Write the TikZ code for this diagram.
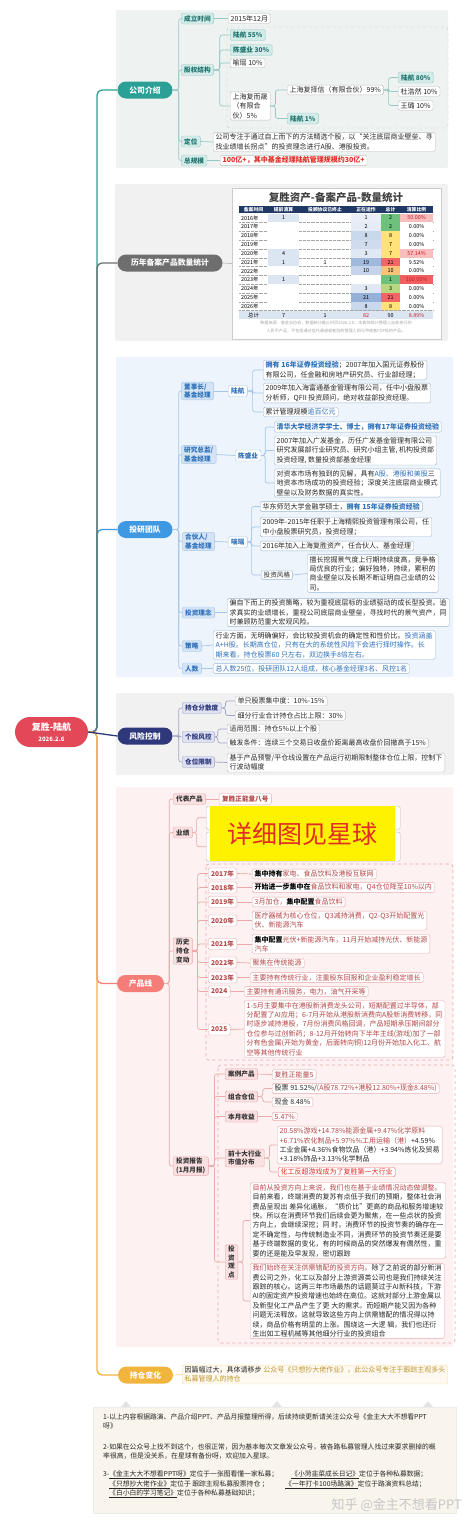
\documentclass[tikz,border=0pt]{standalone}
\usepackage{fontspec}
\setmainfont{Noto Sans CJK SC}
\usetikzlibrary{positioning, arrows.meta, calc}
\definecolor{TealMain}{RGB}{43,160,150}
\definecolor{TealLine}{RGB}{150,200,195}
\definecolor{TealSoft}{RGB}{212,236,233}
\definecolor{TealDark}{RGB}{30,115,110}
\definecolor{GrayMain}{RGB}{110,110,110}
\definecolor{BlueMain}{RGB}{62,152,226}
\definecolor{BlueLine}{RGB}{165,198,232}
\definecolor{BlueSoft}{RGB}{212,228,246}
\definecolor{HiBlue}{RGB}{45,112,185}
\definecolor{NavyMain}{RGB}{46,56,122}
\definecolor{NavyLine}{RGB}{160,165,200}
\definecolor{NavySoft}{RGB}{222,225,242}
\definecolor{RootRed}{RGB}{226,72,88}
\definecolor{SalmonMain}{RGB}{245,125,120}
\definecolor{PinkLine}{RGB}{232,170,170}
\definecolor{PinkSoft}{RGB}{250,224,224}
\definecolor{RedBrown}{RGB}{180,70,70}
\definecolor{XRed}{RGB}{225,45,35}
\definecolor{GoldMain}{RGB}{241,181,62}
\definecolor{GoldText}{RGB}{190,150,50}
\definecolor{BgTeal}{RGB}{238,243,242}
\definecolor{BgGray}{RGB}{241,241,241}
\definecolor{BgBlue}{RGB}{237,244,251}
\definecolor{BgPink}{RGB}{253,241,241}
\definecolor{BgNote}{RGB}{250,245,236}
\definecolor{TbHead}{RGB}{31,56,100}
\definecolor{TbLight}{RGB}{220,230,242}
\definecolor{TbBar}{RGB}{80,125,190}
\definecolor{TgGreen}{RGB}{110,192,125}
\definecolor{TgLime}{RGB}{185,215,128}
\definecolor{TgYellow}{RGB}{255,226,120}
\definecolor{TgOrange}{RGB}{252,195,120}
\definecolor{TgRed}{RGB}{245,100,100}
\definecolor{TbPink}{RGB}{248,190,190}
\definecolor{TbRedF}{RGB}{240,95,95}
\definecolor{TbRed}{RGB}{200,30,40}
\newcommand{\setfs}[2]{\fontsize{#1}{#2}\selectfont}
\newcommand{\hlb}[1]{\textcolor{HiBlue}{\textbf{#1}}}
\newcommand{\blk}[1]{\textcolor{black}{\textbf{#1}}}

\begin{document}
\begin{tikzpicture}[x=1pt, y=-1pt,
  pill/.style={rounded corners=8.5pt, minimum height=17pt, minimum width=55pt, inner sep=1pt, text=white, font=\setfs{7.8}{9}\bfseries},
  lab/.style={draw, rounded corners=1.5pt, inner xsep=3pt, inner ysep=1.5pt, minimum height=11pt, anchor=west, align=left, font=\setfs{6.6}{8.6}\bfseries},
  labteal/.style={lab, draw=TealLine, fill=TealSoft, text=TealDark},
  labblue/.style={lab, draw=BlueLine, fill=BlueSoft, text=HiBlue},
  labnavy/.style={lab, draw=NavyLine, fill=NavySoft, text=NavyMain},
  labpink/.style={lab, draw=PinkLine, fill=PinkSoft, text=black!80},
  yearbox/.style={lab, draw=PinkLine, fill=white, text=RedBrown},
  txt/.style={draw=gray!50, fill=white, rounded corners=1.5pt, inner xsep=2.5pt, inner ysep=1.5pt, anchor=west, align=left, text=black!85, font=\setfs{7}{9.4}},
  txtb/.style={txt, draw=BlueLine!80!gray},
  txtp/.style={txt, draw=PinkLine, text=RedBrown},
  c1/.style={draw=TealLine, line width=0.7pt, rounded corners=2.5pt},
  c3/.style={draw=BlueLine, line width=0.7pt, rounded corners=2.5pt},
  c4/.style={draw=NavyLine, line width=0.7pt, rounded corners=2.5pt},
  c5/.style={draw=PinkLine, line width=0.7pt, rounded corners=2.5pt},
  trunkline/.style={line width=1.3pt, rounded corners=5pt},
  tcell/.style={inner sep=0pt, font=\setfs{5.4}{6}},
  thead/.style={inner sep=0pt, text=white, font=\setfs{4.8}{5.5}\bfseries}
]
\useasboundingbox (0,0) rectangle (474,1524);
\fill[white] (0,0) rectangle (474,1524);

% section backgrounds
\fill[BgTeal, rounded corners=2pt] (116,10) rectangle (448,168);
\fill[BgGray, rounded corners=2pt] (115,184) rectangle (448,341);
\fill[BgBlue, rounded corners=2pt] (116,357) rectangle (453,677);
\fill[BgGray, rounded corners=2pt] (116,693) rectangle (454,775);
\fill[BgPink, rounded corners=2pt] (116,787) rectangle (453,1347);

% root and main branches
\node[fill=RootRed, rounded corners=15pt, minimum width=73pt, minimum height=30pt, inner sep=1pt, text=white, align=center] (root) at (51.5,732)
  {{\setfs{9}{10}\bfseries 复胜-陆航}\\[-1pt]{\setfs{6}{7}\bfseries 2026.2.6}};
\coordinate (trunk) at (97,732);
\node[pill, fill=TealMain] (gsjs) at (145,90) {公司介绍};
\node[pill, fill=GrayMain, minimum width=105pt] (lnba) at (170,263) {历年备案产品数量统计};
\node[pill, fill=BlueMain] (tytd) at (145,529.5) {投研团队};
\node[pill, fill=NavyMain] (fxkz) at (145,736) {风险控制};
\node[pill, fill=SalmonMain, minimum width=47pt] (cpx) at (140.5,983.5) {产品线};
\node[pill, fill=GoldMain] (cchb) at (145.5,1375) {持仓变化};

\draw[trunkline, BlueMain] (root.east) -- (trunk) |- (tytd.west);
\draw[trunkline, TealMain] (root.east) -- (trunk) |- (gsjs.west);
\draw[trunkline, GrayMain] (root.east) -- (trunk) |- (lnba.west);
\draw[trunkline, SalmonMain] (root.east) -- (trunk) |- (cpx.west);
\draw[trunkline, GoldMain] (root.east) -- (trunk) |- (cchb.west);
\draw[trunkline, NavyMain] (root.east) -- (fxkz.west);

% ---- 公司介绍
\node[labteal] (clsj) at (181,18.5) {成立时间};
\node[labteal] (gqjg) at (181,70) {股权结构};
\node[labteal] (dw) at (181,141.5) {定位};
\node[labteal] (zgm) at (181,160.5) {总规模};
\node[txt] (t2015) at (228,18.5) {2015年12月};
\draw[gray!50, dashed, rounded corners=3pt] (227,27) rectangle (448,128);
\node[labteal] (lh55) at (230,35) {陆航 55\%};
\node[labteal] (cs30) at (230,50) {陈盛业 30\%};
\node[txt] (yy10) at (230,63) {喻瑶 10\%};
\node[txt] (shfe) at (230,106) {上海复而晟\\（有限合\\伙）5\%};
\node[txt] (shfz) at (287,90) {上海复择信（有限合伙）99\%};
\node[labteal] (lh1) at (287,118.5) {陆航 1\%};
\node[labteal] (lh80) at (398,77.5) {陆航 80\%};
\node[txt] (dhr) at (398,91.5) {杜浩然 10\%};
\node[txt] (wl) at (398,105.5) {王璐 10\%};
\node[txt] (dwtxt) at (213,142) {公司专注于通过自上而下的方法精选个股，以“关注底层商业壁垒、寻\\找业绩增长拐点”的投资理念进行A股、港股投资。};
\node[txt, text=XRed, font=\setfs{7}{9.4}\bfseries] (zgmtxt) at (220,160.5) {100亿+，其中基金经理陆航管理规模约30亿+};
\foreach \k in {clsj,gqjg,dw,zgm} \draw[c1] (gsjs.east) -- ++(6,0) |- (\k.west);
\draw[c1] (clsj.east) -- (t2015.west);
\draw[c1] (dw.east) -- (dwtxt.west);
\draw[c1] (zgm.east) -- (zgmtxt.west);
\foreach \k in {lh55,cs30,yy10,shfe} \draw[c1] (gqjg.east) -- ++(6,0) |- (\k.west);
\foreach \k in {shfz,lh1} \draw[c1] (shfe.east) -- ++(5,0) |- (\k.west);
\foreach \k in {lh80,dhr,wl} \draw[c1] (shfz.east) -- ++(5,0) |- (\k.west);

% ---- 历年备案产品数量统计
\node[draw=gray!40, fill=white, minimum width=209pt, minimum height=151pt, inner sep=0pt] (tbl) at (336.5,263.5) {};
\draw[c4, draw=gray!55] (lnba.east) -- (tbl.west);
\node[text=black!75, font=\setfs{10.5}{12}\bfseries] (tbltitle) at (336,198) {复胜资产-备案产品-数量统计};
\fill[TbHead] (239,206) rectangle (433,213.3);
\node[thead] (h1) at (253.5,209.7) {备案时间};
\node[thead] (h2) at (283.5,209.7) {提前清算};
\node[thead] (h3) at (325,209.7) {投顾协议已终止};
\node[thead] (h4) at (366,209.7) {正在运作};
\node[thead] (h5) at (390.5,209.7) {总计};
\node[thead] (h6) at (416.5,209.7) {清算比例};
\foreach \yr/\qs/\qsc/\tg/\zy/\zyc/\zj/\zjc/\bl/\blc/\blt [count=\i from 0] in {
  2016/1/TbLight/{}/1/12/2/TgGreen/50.00\%/TbPink/TbRed,
  2017/{}/white/{}/2/15/2/TgGreen/0.00\%/white/black,
  2018/{}/white/{}/8/30/8/TgYellow/0.00\%/white/black,
  2019/{}/white/{}/7/27/7/TgYellow/0.00\%/white/black,
  2020/4/TbLight/{}/3/18/7/TgYellow/57.14\%/TbPink/TbRed,
  2021/1/TbLight/1/19/55/21/TgRed/9.52\%/white/black,
  2022/{}/white/{}/10/33/10/TgOrange/0.00\%/white/black,
  2023/1/TbLight/{}/{}/0/1/TgGreen/100.00\%/TbRedF/TbRed,
  2024/{}/white/{}/3/18/3/TgLime/0.00\%/white/black,
  2025/{}/white/{}/21/60/21/TgRed/0.00\%/white/black,
  2026/{}/white/{}/8/30/8/TgYellow/0.00\%/white/black}
{
  \pgfmathsetmacro\ty{213.5+\i*8.83}
  \pgfmathsetmacro\tm{\ty+4.5}
  \pgfmathsetmacro\tb{\ty+8.83}
  \fill[\qsc] (268,\ty) rectangle (299,\tb);
  \fill[TbBar!\zyc] (351,\ty) rectangle (381,\tb);
  \fill[\zjc] (381,\ty) rectangle (400,\tb);
  \fill[\blc] (400,\ty) rectangle (433,\tb);
  \draw[gray!70, densely dotted, line width=0.3pt] (239,\tb) -- (433,\tb);
  \node[tcell, anchor=west] (yr\i) at (241,\tm) {\yr 年};
  \node[tcell] (qs\i) at (283.5,\tm) {\qs};
  \node[tcell] (tg\i) at (325,\tm) {\tg};
  \node[tcell] (zy\i) at (366,\tm) {\zy};
  \node[tcell] (zj\i) at (390.5,\tm) {\zj};
  \node[tcell, text=\blt] (bl\i) at (416.5,\tm) {\bl};
}
\fill[TbLight] (239,310.6) rectangle (433,319.4);
\node[tcell] (ztot) at (253.5,315.1) {总计};
\node[tcell] (qstot) at (283.5,315.1) {7};
\node[tcell] (tgtot) at (325,315.1) {1};
\node[tcell, text=TbRed] (zytot) at (366,315.1) {82};
\node[tcell] (zjtot) at (390.5,315.1) {90};
\node[tcell, text=TbRed] (bltot) at (416.5,315.1) {8.89\%};
\node[text=gray!70, align=center, inner sep=0pt, font=\setfs{4.1}{8}] (tblnote) at (336,326.5)
  {数据来源：基金业协会，数据统计截止时间2026.2.8；本表仅统计管理人自身发行的\\人民币产品，不包括通过信托通道或者别的管理人的马甲或者FOF投的产品。};

% ---- 投研团队
\node[labblue] (dsz) at (181,391) {董事长/\\基金经理};
\node[labblue, fill=white] (luhang) at (228,391) {陆航};
\node[txtb] (lha) at (263,370) {\hlb{拥有 16年证券投资经验}；2007年加入国元证券股份\\有限公司，任金融和房地产研究员、行业部经理；};
\node[txtb] (lhb) at (263,393) {2009年加入海富通基金管理有限公司，任中小盘股票\\分析师，QFII 投资顾问，绝对收益部投资经理。};
\node[txtb] (lhc) at (263,412) {累计管理规模\textcolor{HiBlue}{逾百亿元}};
\node[labblue] (yjzj) at (181,454.5) {研究总监/\\基金经理};
\node[labblue, fill=white] (csy) at (235,455.5) {陈盛业};
\node[txtb] (csa) at (274,427) {\hlb{清华大学经济学学士、博士，拥有17年证券投资经验}};
\node[txtb] (csb) at (274,450.5) {2007年加入广发基金，历任广发基金管理有限公司\\研究发展部行业研究员、研究小组主管, 机构投资部\\投资经理, 数量投资部基金经理};
\node[txtb] (csc) at (274,483) {对资本市场有独到的见解，具有\textcolor{HiBlue}{A股、港股和美股}三\\地资本市场成功的投资经验；深度关注底层商业模式\\壁垒以及财务数据的真实性。};
\node[labblue] (hhr) at (182,541.5) {合伙人/\\基金经理};
\node[labblue, fill=white] (yuyao) at (228,542) {喻瑶};
\node[txtb] (yya) at (260,506.5) {华东师范大学金融学硕士，\hlb{拥有 15年证券投资经验}};
\node[txtb] (yyb) at (260,527) {2009年-2015年任职于上海精熙投资管理有限公司，任\\中小盘股票研究员，投资经理；};
\node[txtb] (yyc) at (260,546) {2016年加入上海复胜资产，任合伙人、基金经理};
\node[txtb, font=\setfs{6.6}{8.6}] (tzfg) at (261,575) {投资风格};
\node[txtb] (tzfgt) at (307,573.5) {擅长挖掘景气度上行期持续度高，竞争格\\局优良的行业；偏好独特，持续，累积的\\商业壁垒以及长期不断证明自己业绩的公\\司。};
\node[labblue] (tzln) at (182,612.5) {投资理念};
\node[txtb] (tzlnt) at (227,612.5) {偏自下而上的投资策略，较为重视底层标的业绩驱动的成长型投资。追\\求真实的业绩增长，重视公司底层商业壁垒，寻找时代的景气资产，同\\时兼顾防范重大宏观风险。};
\node[labblue] (cl) at (182,646) {策略};
\node[txtb] (clt) at (213,645) {行业方面，无明确偏好，会比较投资机会的确定性和性价比。\textcolor{HiBlue}{投资涵盖}\\\textcolor{HiBlue}{A+H股。长期高仓位，只有在大的系统性风险下会进行择时操作。长}\\\textcolor{HiBlue}{期来看，持仓股票60 只左右，双边换手8倍左右。}};
\node[labblue] (rs) at (182,668.5) {人数};
\node[txtb, text=HiBlue] (rst) at (213,668.5) {总人数25位，投研团队12人组成，核心基金经理3名、风控1名};
\foreach \k in {dsz,yjzj,hhr,tzln,cl,rs} \draw[c3] (tytd.east) -- ++(6,0) |- (\k.west);
\draw[c3] (dsz.east) -- (luhang.west);
\foreach \k in {lha,lhb,lhc} \draw[c3] (luhang.east) -- ++(5,0) |- (\k.west);
\draw[c3] (yjzj.east) -- (csy.west);
\foreach \k in {csa,csb,csc} \draw[c3] (csy.east) -- ++(4,0) |- (\k.west);
\draw[c3] (hhr.east) -- (yuyao.west);
\foreach \k in {yya,yyb,yyc,tzfg} \draw[c3] (yuyao.east) -- ++(4,0) |- (\k.west);
\draw[c3] (tzfg.east) -- (tzfgt.west);
\draw[c3] (tzln.east) -- (tzlnt.west);
\draw[c3] (cl.east) -- (clt.west);
\draw[c3] (rs.east) -- (rst.west);

% ---- 风险控制
\node[labnavy] (ccfsd) at (182,708) {持仓分散度};
\node[txt] (fsa) at (235,701) {单只股票集中度：10\%-15\%};
\node[txt] (fsb) at (235,715.5) {细分行业合计持仓占比上限：30\%};
\node[labnavy] (ggfk) at (182,737) {个股风控};
\node[txt] (gga) at (227,729) {适用范围：持仓5\%以上个股};
\node[txt] (ggb) at (227,743) {触发条件：连续三个交易日收盘价距离最高收盘价回撤高于15\%};
\node[labnavy] (cwxz) at (182,762) {仓位限制};
\node[txt] (cwt) at (227,762.5) {基于产品预警/平仓线设置在产品运行初期限制整体仓位上限，控制下\\行波动幅度};
\foreach \k in {ccfsd,ggfk,cwxz} \draw[c4] (fxkz.east) -- ++(6,0) |- (\k.west);
\foreach \k in {fsa,fsb} \draw[c4] (ccfsd.east) -- ++(4,0) |- (\k.west);
\foreach \k in {gga,ggb} \draw[c4] (ggfk.east) -- ++(3,0) |- (\k.west);
\draw[c4] (cwxz.east) -- (cwt.west);

% ---- 产品线
\node[labpink] (dbcp) at (173,799) {代表产品};
\node[labpink, fill=white, text=RedBrown] (dbcpt) at (219,799) {复胜正能量八号};
\node[labpink] (yj) at (173,832.5) {业绩};
\node[draw=gray!50, fill=white, rounded corners=1.5pt, minimum width=194pt, minimum height=23pt, anchor=north west] (yja) at (206,806) {};
\node[draw=gray!50, fill=white, rounded corners=1.5pt, minimum width=194pt, minimum height=29pt, anchor=north west] (yjb) at (206,832) {};
\node[fill=yellow, minimum width=185pt, minimum height=55pt, inner sep=0pt, text=XRed, font=\setfs{25}{28}] (xxt) at (302.5,833.5) {详细图见星球};
\draw[c5] (dbcp.east) -- (dbcpt.west);
\foreach \k in {yja,yjb} \draw[c5] (yj.east) -- ++(4,0) |- (\k.west);
\node[labpink] (lscc) at (173,951) {历史\\持仓\\变动};
\draw[PinkLine, dashed, line width=0.7pt, rounded corners=3pt] (206,864) rectangle (453,1060);
\node[yearbox] (y17) at (208,873.5) {2017年};
\node[yearbox] (y18) at (208,887.5) {2018年};
\node[yearbox] (y19) at (208,902) {2019年};
\node[yearbox] (y20) at (208,920.5) {2020年};
\node[yearbox] (y21) at (208,944) {2021年};
\node[yearbox] (y22) at (208,962.5) {2022年};
\node[yearbox] (y23) at (208,977.5) {2023年};
\node[yearbox] (y24) at (208,991.5) {2024};
\node[yearbox] (y25) at (208,1029.5) {2025};
\node[txtp] (t17) at (252,874) {\blk{集中持有}家电、食品饮料及港股互联网};
\node[txtp] (t18) at (252,887.5) {\blk{开始进一步集中在}食品饮料和家电，Q4仓位降至10\%以内};
\node[txtp] (t19) at (252,902) {3月加仓，\blk{集中配置}食品饮料};
\node[txtp] (t20) at (252,920.5) {医疗器械为核心仓位，Q3减持消费，Q2-Q3开始配置光\\伏、新能源汽车};
\node[txtp] (t21) at (252,944) {\blk{集中配置}光伏+新能源汽车，11月开始减持光伏、新能源\\汽车};
\node[txtp] (t22) at (250,963) {聚焦在传统能源};
\node[txtp] (t23) at (250,977.5) {主要持有传统行业，注重股东回报和企业盈利稳定增长};
\node[txtp] (t24) at (244,991.5) {主要持有通讯服务，电力，油气开采等};
\node[txtp] (t25) at (244,1029) {1-5月主要集中在港股新消费龙头公司，短期配置过半导体，部\\分配置了AI应用；6-7月开始从港股新消费向A股新消费转移，同\\时逐步减持港股，7月份消费风格回调，产品短期承压期间部分\\仓位参与过创新药；8-12月开始转向下半年主线(游戏)加了一部\\分有色金属(开始为黄金，后面转向铜)12月份开始加入化工、航\\空等其他传统行业};
\foreach \k in {17,18,19,20,21,22,23,24,25} {
  \draw[c5] (lscc.east) -- ++(5,0) |- (y\k.west);
  \draw[c5] (y\k.east) -- (t\k.west);
}
\node[labpink] (tzbg) at (173,1166) {投资报告\\(1月月报)};
\draw[PinkLine, dashed, line width=0.7pt, rounded corners=3pt] (218,1065) rectangle (455,1343);
\node[labpink] (alcp) at (225,1074) {案例产品};
\node[txtp] (alcpt) at (272,1074.5) {复胜正能量5};
\node[labpink] (zhcw) at (225,1096.5) {组合仓位};
\node[txtp, text=black!85] (zha) at (272,1088.5) {股票 91.52\%/\textcolor{RedBrown}{(A股78.72\%+港股12.80\%+现金8.48\%)}};
\node[txtp, text=black!85] (zhb) at (272,1102) {现金 8.48\%};
\node[labpink] (byys) at (225,1116.5) {本月收益};
\node[txtp] (byyst) at (272,1116.5) {5.47\%};
\node[labpink] (qsd) at (225,1158) {前十大行业\\市值分布};
\node[txtp, text=black!85] (qsda) at (277,1145) {\textcolor{RedBrown}{20.58\%游戏+14.78\%能源金属+9.47\%化学原料}\\\textcolor{RedBrown}{+6.71\%农化制品+5.97\%\%工用运输（港）}+4.59\%\\工业金属+4.36\%食物饮品（港）+3.94\%炼化及贸易\\+3.18\%饰品+3.13\%化学制品};
\node[txtp, draw=XRed!70, text=XRed] (qsdb) at (278,1172) {化工反超游戏成为了复胜第一大行业};
\node[labpink] (tzgd) at (225,1262) {投\\资\\观\\点};
\node[txtp, text=black!85] (gda) at (250,1220.5) {\textcolor{RedBrown}{目前从投资方向上来说，我们也在基于业绩情况动态做调整。}\\目前来看，终端消费的复苏有点低于我们的预期，整体社会消\\费品呈现出 差异化通胀，“质价比”更高的商品和服务增速较\\快。所以在消费环节我们后续会更为聚焦，在一些点状的投资\\方向上，会继续深挖；同 时，消费环节的投资节奏的确存在一\\定不确定性，与传统制造业不同，消费环节的投资节奏还是要\\基于终端数据的变化，有的时候商品的突然爆发有偶然性，重\\要的还是能及早发现，密切跟踪};
\node[txtp, text=black!85] (gdb) at (250,1301) {\textcolor{RedBrown}{我们始终在关注供需错配的投资方向。}除了之前说的部分新消\\费公司之外，化工以及部分上游资源类公司也是我们持续关注\\跟踪的核心。这两三年市场最热的话题莫过于AI新科技，下游\\AI的固定资产投资增速也始终在高位。这就对部分上游金属以\\及新型化工产品产生了更 大的需求。而短期产能又因为各种\\问题无法释放。这就导致这些方向上供需错配的情况得以持\\续，商品价格有明显的上涨。围绕这一大逻 辑，我们也还衍\\生出如工程机械等其他细分行业的投资组合};
\foreach \k in {dbcp,yj,lscc,tzbg} \draw[c5] (cpx.east) -- ++(5,0) |- (\k.west);
\foreach \k in {alcp,zhcw,byys,qsd,tzgd} \draw[c5] (tzbg.east) -- ++(6,0) |- (\k.west);
\draw[c5] (alcp.east) -- (alcpt.west);
\foreach \k in {zha,zhb} \draw[c5] (zhcw.east) -- ++(5,0) |- (\k.west);
\draw[c5] (byys.east) -- (byyst.west);
\foreach \k in {qsda,qsdb} \draw[c5] (qsd.east) -- ++(5,0) |- (\k.west);
\foreach \k in {gda,gdb} \draw[c5] (tzgd.east) -- ++(5,0) |- (\k.west);

% ---- 持仓变化
\node[txt, draw=GoldMain!45, fill=GoldMain!8] (cchbt) at (182,1374.5) {因篇幅过大，具体请移步 \textcolor{GoldText}{公众号《只想抄大佬作业》，此公众号专注于跟踪主观多头}\\\textcolor{GoldText}{私募管理人的持仓}};
\draw[draw=GoldMain!60, line width=0.7pt] (cchb.east) -- (cchbt.west);

% ---- note
\foreach \tx in {126,277,428} \fill[gray!22] (\tx-5,1407) -- (\tx,1401) -- (\tx+5,1407) -- cycle;
\fill[BgNote, draw=gray!15] (93,1407) rectangle (456,1513);
\node[anchor=west, align=left, inner sep=0pt, text=black!85, font=\setfs{6.8}{9.3}] (note1) at (103,1421.5) {1-以上内容根据路演、产品介绍PPT、产品月报整理所得，后续持续更新请关注公众号《金主大大不想看PPT\\呀》};
\node[anchor=west, align=left, inner sep=0pt, text=black!85, font=\setfs{6.8}{9.3}] (note2) at (103,1451.5) {2-如果在公众号上找不到这个，也很正常，因为基本每次文章发公众号，被各路私募管理人找过来要求删掉的概\\率很高，但是没关系，在星球有备份呀，欢迎加入星球。};
\node[anchor=west, inner sep=0pt, text=black!85, font=\setfs{6.8}{9.3}] (note3a) at (103,1475) {3-\underline{《金主大大不想看PPT呀》}定位于一张图看懂一家私募；};
\node[anchor=west, inner sep=0pt, text=black!85, font=\setfs{6.8}{9.3}] (note3b) at (291,1475) {\underline{《小菏韭菜成长日记》}定位于各种私募数据；};
\node[anchor=west, inner sep=0pt, text=black!85, font=\setfs{6.8}{9.3}] (note3c) at (109,1484.5) {\underline{《只想抄大佬作业》}定位于 跟踪主观私募股票持仓 ；};
\node[anchor=west, inner sep=0pt, text=black!85, font=\setfs{6.8}{9.3}] (note3d) at (285,1484.5) {\underline{《一年打卡100场路演》}定位于路演资料总结；};
\node[anchor=west, inner sep=0pt, text=black!85, font=\setfs{6.8}{9.3}] (note3e) at (109,1494) {\underline{《白小白的学习笔记》}定位于各种私募基础知识；};
\node[anchor=east, inner sep=0pt, text=gray!45, font=\setfs{13}{15}] (zhwm) at (462,1505) {知乎 @金主不想看PPT};
\end{tikzpicture}
\end{document}
